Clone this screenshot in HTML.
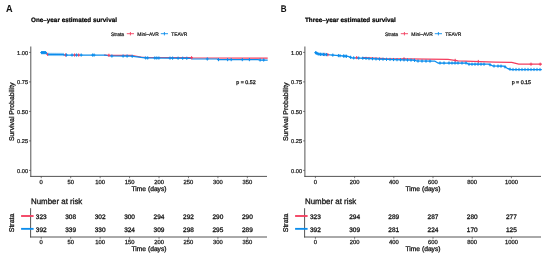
<!DOCTYPE html>
<html><head><meta charset="utf-8"><style>
html,body{margin:0;padding:0;background:#fff;width:550px;height:256px;overflow:hidden}
#w{width:550px;height:256px;will-change:transform}
svg text{font-family:"Liberation Sans", sans-serif;text-rendering:geometricPrecision;stroke:#111;stroke-width:0.3px;paint-order:stroke}
</style></head><body><div id="w">
<svg width="550" height="256" viewBox="0 0 550 256" style="display:block">
<rect width="550" height="256" fill="#ffffff"/>
<text x="0" y="0" font-size="9.4" font-weight="bold" fill="#111" style="stroke-width:0.05px" transform="translate(6.00,11.6) scale(0.97,1.09)">A</text>
<text x="31.00" y="22.15" font-size="6.3" text-anchor="start" font-weight="bold" fill="#000" style="stroke-width:0.22px;stroke:#000;letter-spacing:0.02px">One–year estimated survival</text>
<text x="110.90" y="35.50" font-size="4.95" text-anchor="start" font-weight="normal" fill="#1a1a1a" style="stroke-width:0.2px">Strata</text>
<line x1="126.80" y1="33.70" x2="134.00" y2="33.70" stroke="#F43E5F" stroke-width="0.9" />
<line x1="130.40" y1="32.00" x2="130.40" y2="35.40" stroke="#F43E5F" stroke-width="0.9" />
<line x1="160.80" y1="33.70" x2="168.00" y2="33.70" stroke="#0C8DEC" stroke-width="0.9" />
<line x1="164.40" y1="32.00" x2="164.40" y2="35.40" stroke="#0C8DEC" stroke-width="0.9" />
<text x="137.30" y="35.50" font-size="4.95" text-anchor="start" font-weight="normal" fill="#1a1a1a" style="stroke-width:0.2px">Mini–AVR</text>
<text x="171.30" y="35.50" font-size="4.95" text-anchor="start" font-weight="normal" fill="#1a1a1a" style="stroke-width:0.2px">TEAVR</text>
<path d="M104.00,55.10 L105.00,55.10 L108.90,55.30 L131.00,55.40 L141.00,57.00 L145.00,57.40 L191.00,57.60 L192.00,57.80 L267.70,58.20" fill="none" stroke="#F43E5F" stroke-width="1.25" stroke-linejoin="round"/>
<path d="M41.24,52.60 L46.00,52.60 L47.50,54.40 L63.00,54.50 L64.00,55.00 L105.00,55.10 L110.40,56.00 L131.00,56.10 L141.00,57.40 L145.00,57.90 L191.00,58.30 L192.00,58.90 L217.00,59.00 L218.00,59.60 L258.00,59.60 L260.00,60.00 L267.70,60.00" fill="none" stroke="#0C8DEC" stroke-width="1.25" stroke-linejoin="round"/>
<path d="M47.70,52.80v3.20M46.30,54.40h2.8 M65.50,53.40v3.20M64.10,55.00h2.8 M74.60,53.43v3.20M73.20,55.03h2.8 M78.70,53.44v3.20M77.30,55.04h2.8 M108.90,53.70v3.20M107.50,55.30h2.8 M191.60,56.12v3.20M190.20,57.72h2.8" fill="none" stroke="#F43E5F" stroke-width="1.0"/>
<path d="M41.60,51.00v3.20M40.20,52.60h2.8 M42.60,51.00v3.20M41.20,52.60h2.8 M43.60,51.00v3.20M42.20,52.60h2.8 M44.60,51.00v3.20M43.20,52.60h2.8 M45.60,51.00v3.20M44.20,52.60h2.8 M49.00,52.81v3.20M47.60,54.41h2.8 M51.00,52.82v3.20M49.60,54.42h2.8 M53.00,52.84v3.20M51.60,54.44h2.8 M55.00,52.85v3.20M53.60,54.45h2.8 M57.00,52.86v3.20M55.60,54.46h2.8 M59.00,52.87v3.20M57.60,54.47h2.8 M61.00,52.89v3.20M59.60,54.49h2.8 M63.00,52.90v3.20M61.60,54.50h2.8 M66.50,53.41v3.20M65.10,55.01h2.8 M72.00,53.42v3.20M70.60,55.02h2.8 M76.60,53.43v3.20M75.20,55.03h2.8 M81.20,53.44v3.20M79.80,55.04h2.8 M92.60,53.47v3.20M91.20,55.07h2.8 M94.10,53.47v3.20M92.70,55.07h2.8 M111.90,54.41v3.20M110.50,56.01h2.8 M123.10,54.46v3.20M121.70,56.06h2.8 M127.10,54.48v3.20M125.70,56.08h2.8 M132.20,54.66v3.20M130.80,56.26h2.8 M145.70,56.31v3.20M144.30,57.91h2.8 M147.70,56.32v3.20M146.30,57.92h2.8 M154.80,56.39v3.20M153.40,57.99h2.8 M156.80,56.40v3.20M155.40,58.00h2.8 M158.90,56.42v3.20M157.50,58.02h2.8 M170.00,56.52v3.20M168.60,58.12h2.8 M172.60,56.54v3.20M171.20,58.14h2.8 M178.10,56.59v3.20M176.70,58.19h2.8 M182.70,56.63v3.20M181.30,58.23h2.8 M186.80,56.66v3.20M185.40,58.26h2.8 M207.30,57.36v3.20M205.90,58.96h2.8 M218.50,58.00v3.20M217.10,59.60h2.8 M227.60,58.00v3.20M226.20,59.60h2.8 M231.20,58.00v3.20M229.80,59.60h2.8 M242.30,58.00v3.20M240.90,59.60h2.8 M249.40,58.00v3.20M248.00,59.60h2.8 M260.10,58.40v3.20M258.70,60.00h2.8 M263.70,58.40v3.20M262.30,60.00h2.8" fill="none" stroke="#0C8DEC" stroke-width="1.0"/>
<line x1="30.80" y1="46.50" x2="30.80" y2="176.85" stroke="#424242" stroke-width="0.9" />
<line x1="30.35" y1="176.40" x2="267.00" y2="176.40" stroke="#424242" stroke-width="0.9" />
<line x1="29.00" y1="52.40" x2="30.80" y2="52.40" stroke="#424242" stroke-width="0.7" />
<text x="28.20" y="54.70" font-size="5.7" text-anchor="end" font-weight="normal" fill="#1a1a1a" style="stroke-width:0.22px">1.00</text>
<line x1="29.00" y1="81.90" x2="30.80" y2="81.90" stroke="#424242" stroke-width="0.7" />
<text x="28.20" y="84.20" font-size="5.7" text-anchor="end" font-weight="normal" fill="#1a1a1a" style="stroke-width:0.22px">0.75</text>
<line x1="29.00" y1="111.40" x2="30.80" y2="111.40" stroke="#424242" stroke-width="0.7" />
<text x="28.20" y="113.70" font-size="5.7" text-anchor="end" font-weight="normal" fill="#1a1a1a" style="stroke-width:0.22px">0.50</text>
<line x1="29.00" y1="140.90" x2="30.80" y2="140.90" stroke="#424242" stroke-width="0.7" />
<text x="28.20" y="143.20" font-size="5.7" text-anchor="end" font-weight="normal" fill="#1a1a1a" style="stroke-width:0.22px">0.25</text>
<line x1="29.00" y1="170.40" x2="30.80" y2="170.40" stroke="#424242" stroke-width="0.7" />
<text x="28.20" y="172.70" font-size="5.7" text-anchor="end" font-weight="normal" fill="#1a1a1a" style="stroke-width:0.22px">0.00</text>
<text x="0" y="0" font-size="6.9" text-anchor="middle" fill="#1a1a1a" transform="translate(14.20,111.8) rotate(-90)">Survival Probability</text>
<line x1="41.24" y1="176.40" x2="41.24" y2="178.20" stroke="#424242" stroke-width="0.7" />
<text x="41.24" y="183.70" font-size="5.85" text-anchor="middle" font-weight="normal" fill="#1a1a1a" style="stroke-width:0.25px">0</text>
<line x1="70.69" y1="176.40" x2="70.69" y2="178.20" stroke="#424242" stroke-width="0.7" />
<text x="70.69" y="183.70" font-size="5.85" text-anchor="middle" font-weight="normal" fill="#1a1a1a" style="stroke-width:0.25px">50</text>
<line x1="100.13" y1="176.40" x2="100.13" y2="178.20" stroke="#424242" stroke-width="0.7" />
<text x="100.13" y="183.70" font-size="5.85" text-anchor="middle" font-weight="normal" fill="#1a1a1a" style="stroke-width:0.25px">100</text>
<line x1="129.57" y1="176.40" x2="129.57" y2="178.20" stroke="#424242" stroke-width="0.7" />
<text x="129.57" y="183.70" font-size="5.85" text-anchor="middle" font-weight="normal" fill="#1a1a1a" style="stroke-width:0.25px">150</text>
<line x1="159.02" y1="176.40" x2="159.02" y2="178.20" stroke="#424242" stroke-width="0.7" />
<text x="159.02" y="183.70" font-size="5.85" text-anchor="middle" font-weight="normal" fill="#1a1a1a" style="stroke-width:0.25px">200</text>
<line x1="188.47" y1="176.40" x2="188.47" y2="178.20" stroke="#424242" stroke-width="0.7" />
<text x="188.47" y="183.70" font-size="5.85" text-anchor="middle" font-weight="normal" fill="#1a1a1a" style="stroke-width:0.25px">250</text>
<line x1="217.91" y1="176.40" x2="217.91" y2="178.20" stroke="#424242" stroke-width="0.7" />
<text x="217.91" y="183.70" font-size="5.85" text-anchor="middle" font-weight="normal" fill="#1a1a1a" style="stroke-width:0.25px">300</text>
<line x1="247.35" y1="176.40" x2="247.35" y2="178.20" stroke="#424242" stroke-width="0.7" />
<text x="247.35" y="183.70" font-size="5.85" text-anchor="middle" font-weight="normal" fill="#1a1a1a" style="stroke-width:0.25px">350</text>
<text x="149.00" y="191.00" font-size="6.7" text-anchor="middle" font-weight="normal" fill="#1a1a1a" >Time (days)</text>
<text x="236.30" y="84.30" font-size="5.3" text-anchor="start" font-weight="normal" fill="#222" >p = 0.52</text>
<text x="31.00" y="203.90" font-size="7.9" text-anchor="start" font-weight="normal" fill="#1a1a1a" >Number at risk</text>
<line x1="30.60" y1="208.20" x2="30.60" y2="237.45" stroke="#424242" stroke-width="0.9" />
<line x1="30.15" y1="237.00" x2="267.00" y2="237.00" stroke="#424242" stroke-width="0.9" />
<line x1="21.10" y1="216.00" x2="33.60" y2="216.00" stroke="#F43E5F" stroke-width="1.85" />
<line x1="21.10" y1="228.85" x2="33.60" y2="228.85" stroke="#0C8DEC" stroke-width="1.85" />
<text x="0" y="0" font-size="7.0" text-anchor="middle" fill="#1a1a1a" transform="translate(14.00,222.9) rotate(-90)">Strata</text>
<text x="41.24" y="218.60" font-size="6.5" text-anchor="middle" font-weight="normal" fill="#1a1a1a" >323</text>
<text x="41.24" y="231.60" font-size="6.5" text-anchor="middle" font-weight="normal" fill="#1a1a1a" >392</text>
<line x1="41.24" y1="237.00" x2="41.24" y2="238.80" stroke="#424242" stroke-width="0.7" />
<text x="41.24" y="243.90" font-size="5.85" text-anchor="middle" font-weight="normal" fill="#1a1a1a" style="stroke-width:0.25px">0</text>
<text x="70.69" y="218.60" font-size="6.5" text-anchor="middle" font-weight="normal" fill="#1a1a1a" >308</text>
<text x="70.69" y="231.60" font-size="6.5" text-anchor="middle" font-weight="normal" fill="#1a1a1a" >339</text>
<line x1="70.69" y1="237.00" x2="70.69" y2="238.80" stroke="#424242" stroke-width="0.7" />
<text x="70.69" y="243.90" font-size="5.85" text-anchor="middle" font-weight="normal" fill="#1a1a1a" style="stroke-width:0.25px">50</text>
<text x="100.13" y="218.60" font-size="6.5" text-anchor="middle" font-weight="normal" fill="#1a1a1a" >302</text>
<text x="100.13" y="231.60" font-size="6.5" text-anchor="middle" font-weight="normal" fill="#1a1a1a" >330</text>
<line x1="100.13" y1="237.00" x2="100.13" y2="238.80" stroke="#424242" stroke-width="0.7" />
<text x="100.13" y="243.90" font-size="5.85" text-anchor="middle" font-weight="normal" fill="#1a1a1a" style="stroke-width:0.25px">100</text>
<text x="129.57" y="218.60" font-size="6.5" text-anchor="middle" font-weight="normal" fill="#1a1a1a" >300</text>
<text x="129.57" y="231.60" font-size="6.5" text-anchor="middle" font-weight="normal" fill="#1a1a1a" >324</text>
<line x1="129.57" y1="237.00" x2="129.57" y2="238.80" stroke="#424242" stroke-width="0.7" />
<text x="129.57" y="243.90" font-size="5.85" text-anchor="middle" font-weight="normal" fill="#1a1a1a" style="stroke-width:0.25px">150</text>
<text x="159.02" y="218.60" font-size="6.5" text-anchor="middle" font-weight="normal" fill="#1a1a1a" >294</text>
<text x="159.02" y="231.60" font-size="6.5" text-anchor="middle" font-weight="normal" fill="#1a1a1a" >309</text>
<line x1="159.02" y1="237.00" x2="159.02" y2="238.80" stroke="#424242" stroke-width="0.7" />
<text x="159.02" y="243.90" font-size="5.85" text-anchor="middle" font-weight="normal" fill="#1a1a1a" style="stroke-width:0.25px">200</text>
<text x="188.47" y="218.60" font-size="6.5" text-anchor="middle" font-weight="normal" fill="#1a1a1a" >292</text>
<text x="188.47" y="231.60" font-size="6.5" text-anchor="middle" font-weight="normal" fill="#1a1a1a" >298</text>
<line x1="188.47" y1="237.00" x2="188.47" y2="238.80" stroke="#424242" stroke-width="0.7" />
<text x="188.47" y="243.90" font-size="5.85" text-anchor="middle" font-weight="normal" fill="#1a1a1a" style="stroke-width:0.25px">250</text>
<text x="217.91" y="218.60" font-size="6.5" text-anchor="middle" font-weight="normal" fill="#1a1a1a" >290</text>
<text x="217.91" y="231.60" font-size="6.5" text-anchor="middle" font-weight="normal" fill="#1a1a1a" >295</text>
<line x1="217.91" y1="237.00" x2="217.91" y2="238.80" stroke="#424242" stroke-width="0.7" />
<text x="217.91" y="243.90" font-size="5.85" text-anchor="middle" font-weight="normal" fill="#1a1a1a" style="stroke-width:0.25px">300</text>
<text x="247.35" y="218.60" font-size="6.5" text-anchor="middle" font-weight="normal" fill="#1a1a1a" >290</text>
<text x="247.35" y="231.60" font-size="6.5" text-anchor="middle" font-weight="normal" fill="#1a1a1a" >289</text>
<line x1="247.35" y1="237.00" x2="247.35" y2="238.80" stroke="#424242" stroke-width="0.7" />
<text x="247.35" y="243.90" font-size="5.85" text-anchor="middle" font-weight="normal" fill="#1a1a1a" style="stroke-width:0.25px">350</text>
<text x="149.00" y="251.20" font-size="6.7" text-anchor="middle" font-weight="normal" fill="#1a1a1a" >Time (days)</text>
<text x="0" y="0" font-size="9.4" font-weight="bold" fill="#111" style="stroke-width:0.05px" transform="translate(280.80,11.6) scale(0.86,1.03)">B</text>
<text x="305.00" y="22.15" font-size="6.3" text-anchor="start" font-weight="bold" fill="#000" style="stroke-width:0.22px;stroke:#000;letter-spacing:0.02px">Three–year estimated survival</text>
<text x="384.90" y="35.50" font-size="4.95" text-anchor="start" font-weight="normal" fill="#1a1a1a" style="stroke-width:0.2px">Strata</text>
<line x1="400.80" y1="33.70" x2="408.00" y2="33.70" stroke="#F43E5F" stroke-width="0.9" />
<line x1="404.40" y1="32.00" x2="404.40" y2="35.40" stroke="#F43E5F" stroke-width="0.9" />
<line x1="434.80" y1="33.70" x2="442.00" y2="33.70" stroke="#0C8DEC" stroke-width="0.9" />
<line x1="438.40" y1="32.00" x2="438.40" y2="35.40" stroke="#0C8DEC" stroke-width="0.9" />
<text x="411.30" y="35.50" font-size="4.95" text-anchor="start" font-weight="normal" fill="#1a1a1a" style="stroke-width:0.2px">Mini–AVR</text>
<text x="445.30" y="35.50" font-size="4.95" text-anchor="start" font-weight="normal" fill="#1a1a1a" style="stroke-width:0.2px">TEAVR</text>
<path d="M362.00,57.60 L365.00,57.60 L385.00,58.60 L448.00,59.40 L458.00,60.80 L495.00,62.10 L511.70,62.40 L518.75,64.20 L541.70,64.20" fill="none" stroke="#F43E5F" stroke-width="1.25" stroke-linejoin="round"/>
<path d="M315.40,52.60 L319.00,54.20 L327.00,54.60 L348.00,56.40 L352.00,57.80 L360.00,58.10 L380.00,59.10 L395.00,59.60 L414.00,60.20 L417.00,61.00 L435.00,61.20 L438.00,63.00 L466.50,63.00 L469.00,64.20 L488.70,64.20 L493.00,66.00 L504.00,66.20 L508.00,68.70 L511.00,69.50 L541.70,69.50" fill="none" stroke="#0C8DEC" stroke-width="1.25" stroke-linejoin="round"/>
<path d="M324.20,52.86v3.20M322.80,54.46h2.8 M327.80,53.07v3.20M326.40,54.67h2.8 M356.70,56.00v3.20M355.30,57.60h2.8 M404.00,57.24v3.20M402.60,58.84h2.8 M455.20,58.81v3.20M453.80,60.41h2.8 M478.30,59.91v3.20M476.90,61.51h2.8 M531.00,62.60v3.20M529.60,64.20h2.8 M540.20,62.60v3.20M538.80,64.20h2.8" fill="none" stroke="#F43E5F" stroke-width="1.0"/>
<path d="M315.60,51.09v3.20M314.20,52.69h2.8 M316.60,51.53v3.20M315.20,53.13h2.8 M317.80,52.07v3.20M316.40,53.67h2.8 M319.00,52.60v3.20M317.60,54.20h2.8 M320.50,52.68v3.20M319.10,54.28h2.8 M322.00,52.75v3.20M320.60,54.35h2.8 M323.50,52.83v3.20M322.10,54.43h2.8 M325.00,52.90v3.20M323.60,54.50h2.8 M326.50,52.98v3.20M325.10,54.58h2.8 M332.80,53.50v3.20M331.40,55.10h2.8 M338.40,53.98v3.20M337.00,55.58h2.8 M340.00,54.11v3.20M338.60,55.71h2.8 M343.50,54.41v3.20M342.10,56.01h2.8 M345.00,54.54v3.20M343.60,56.14h2.8 M346.50,54.67v3.20M345.10,56.27h2.8 M350.60,55.71v3.20M349.20,57.31h2.8 M353.70,56.26v3.20M352.30,57.86h2.8 M358.70,56.45v3.20M357.30,58.05h2.8 M362.80,56.64v3.20M361.40,58.24h2.8 M366.00,56.80v3.20M364.60,58.40h2.8 M369.00,56.95v3.20M367.60,58.55h2.8 M372.50,57.12v3.20M371.10,58.73h2.8 M376.00,57.30v3.20M374.60,58.90h2.8 M379.50,57.48v3.20M378.10,59.08h2.8 M383.00,57.60v3.20M381.60,59.20h2.8 M386.50,57.72v3.20M385.10,59.32h2.8 M390.00,57.83v3.20M388.60,59.43h2.8 M393.50,57.95v3.20M392.10,59.55h2.8 M397.00,58.06v3.20M395.60,59.66h2.8 M400.50,58.17v3.20M399.10,59.77h2.8 M404.00,58.28v3.20M402.60,59.88h2.8 M407.50,58.39v3.20M406.10,59.99h2.8 M411.00,58.51v3.20M409.60,60.11h2.8 M414.50,58.73v3.20M413.10,60.33h2.8 M418.00,59.41v3.20M416.60,61.01h2.8 M422.00,59.46v3.20M420.60,61.06h2.8 M426.00,59.50v3.20M424.60,61.10h2.8 M430.00,59.54v3.20M428.60,61.14h2.8 M440.00,61.40v3.20M438.60,63.00h2.8 M444.00,61.40v3.20M442.60,63.00h2.8 M449.00,61.40v3.20M447.60,63.00h2.8 M452.00,61.40v3.20M450.60,63.00h2.8 M455.00,61.40v3.20M453.60,63.00h2.8 M458.00,61.40v3.20M456.60,63.00h2.8 M462.00,61.40v3.20M460.60,63.00h2.8 M466.00,61.40v3.20M464.60,63.00h2.8 M469.00,62.60v3.20M467.60,64.20h2.8 M472.00,62.60v3.20M470.60,64.20h2.8 M475.00,62.60v3.20M473.60,64.20h2.8 M478.00,62.60v3.20M476.60,64.20h2.8 M481.00,62.60v3.20M479.60,64.20h2.8 M484.00,62.60v3.20M482.60,64.20h2.8 M490.00,63.14v3.20M488.60,64.74h2.8 M494.00,64.42v3.20M492.60,66.02h2.8 M498.00,64.49v3.20M496.60,66.09h2.8 M501.00,64.55v3.20M499.60,66.15h2.8 M505.00,65.23v3.20M503.60,66.83h2.8 M510.00,67.63v3.20M508.60,69.23h2.8 M513.00,67.90v3.20M511.60,69.50h2.8 M516.00,67.90v3.20M514.60,69.50h2.8 M519.00,67.90v3.20M517.60,69.50h2.8 M522.00,67.90v3.20M520.60,69.50h2.8 M525.00,67.90v3.20M523.60,69.50h2.8 M528.00,67.90v3.20M526.60,69.50h2.8 M531.00,67.90v3.20M529.60,69.50h2.8 M534.00,67.90v3.20M532.60,69.50h2.8 M537.00,67.90v3.20M535.60,69.50h2.8 M540.00,67.90v3.20M538.60,69.50h2.8" fill="none" stroke="#0C8DEC" stroke-width="1.0"/>
<line x1="304.90" y1="46.50" x2="304.90" y2="176.85" stroke="#424242" stroke-width="0.9" />
<line x1="304.45" y1="176.40" x2="541.00" y2="176.40" stroke="#424242" stroke-width="0.9" />
<line x1="303.10" y1="52.40" x2="304.90" y2="52.40" stroke="#424242" stroke-width="0.7" />
<text x="302.20" y="54.70" font-size="5.7" text-anchor="end" font-weight="normal" fill="#1a1a1a" style="stroke-width:0.22px">1.00</text>
<line x1="303.10" y1="81.90" x2="304.90" y2="81.90" stroke="#424242" stroke-width="0.7" />
<text x="302.20" y="84.20" font-size="5.7" text-anchor="end" font-weight="normal" fill="#1a1a1a" style="stroke-width:0.22px">0.75</text>
<line x1="303.10" y1="111.40" x2="304.90" y2="111.40" stroke="#424242" stroke-width="0.7" />
<text x="302.20" y="113.70" font-size="5.7" text-anchor="end" font-weight="normal" fill="#1a1a1a" style="stroke-width:0.22px">0.50</text>
<line x1="303.10" y1="140.90" x2="304.90" y2="140.90" stroke="#424242" stroke-width="0.7" />
<text x="302.20" y="143.20" font-size="5.7" text-anchor="end" font-weight="normal" fill="#1a1a1a" style="stroke-width:0.22px">0.25</text>
<line x1="303.10" y1="170.40" x2="304.90" y2="170.40" stroke="#424242" stroke-width="0.7" />
<text x="302.20" y="172.70" font-size="5.7" text-anchor="end" font-weight="normal" fill="#1a1a1a" style="stroke-width:0.22px">0.00</text>
<text x="0" y="0" font-size="6.9" text-anchor="middle" fill="#1a1a1a" transform="translate(288.20,111.8) rotate(-90)">Survival Probability</text>
<line x1="315.40" y1="176.40" x2="315.40" y2="178.20" stroke="#424242" stroke-width="0.7" />
<text x="315.40" y="183.70" font-size="5.85" text-anchor="middle" font-weight="normal" fill="#1a1a1a" style="stroke-width:0.25px">0</text>
<line x1="354.60" y1="176.40" x2="354.60" y2="178.20" stroke="#424242" stroke-width="0.7" />
<text x="354.60" y="183.70" font-size="5.85" text-anchor="middle" font-weight="normal" fill="#1a1a1a" style="stroke-width:0.25px">200</text>
<line x1="393.80" y1="176.40" x2="393.80" y2="178.20" stroke="#424242" stroke-width="0.7" />
<text x="393.80" y="183.70" font-size="5.85" text-anchor="middle" font-weight="normal" fill="#1a1a1a" style="stroke-width:0.25px">400</text>
<line x1="433.00" y1="176.40" x2="433.00" y2="178.20" stroke="#424242" stroke-width="0.7" />
<text x="433.00" y="183.70" font-size="5.85" text-anchor="middle" font-weight="normal" fill="#1a1a1a" style="stroke-width:0.25px">600</text>
<line x1="472.20" y1="176.40" x2="472.20" y2="178.20" stroke="#424242" stroke-width="0.7" />
<text x="472.20" y="183.70" font-size="5.85" text-anchor="middle" font-weight="normal" fill="#1a1a1a" style="stroke-width:0.25px">800</text>
<line x1="511.40" y1="176.40" x2="511.40" y2="178.20" stroke="#424242" stroke-width="0.7" />
<text x="511.40" y="183.70" font-size="5.85" text-anchor="middle" font-weight="normal" fill="#1a1a1a" style="stroke-width:0.25px">1000</text>
<text x="423.00" y="191.00" font-size="6.7" text-anchor="middle" font-weight="normal" fill="#1a1a1a" >Time (days)</text>
<text x="511.70" y="84.30" font-size="5.3" text-anchor="start" font-weight="normal" fill="#222" >p = 0.15</text>
<text x="305.00" y="203.90" font-size="7.9" text-anchor="start" font-weight="normal" fill="#1a1a1a" >Number at risk</text>
<line x1="304.60" y1="208.20" x2="304.60" y2="237.45" stroke="#424242" stroke-width="0.9" />
<line x1="304.15" y1="237.00" x2="541.00" y2="237.00" stroke="#424242" stroke-width="0.9" />
<line x1="295.10" y1="216.00" x2="307.60" y2="216.00" stroke="#F43E5F" stroke-width="1.85" />
<line x1="295.10" y1="228.85" x2="307.60" y2="228.85" stroke="#0C8DEC" stroke-width="1.85" />
<text x="0" y="0" font-size="7.0" text-anchor="middle" fill="#1a1a1a" transform="translate(288.00,222.9) rotate(-90)">Strata</text>
<text x="315.40" y="218.60" font-size="6.5" text-anchor="middle" font-weight="normal" fill="#1a1a1a" >323</text>
<text x="315.40" y="231.60" font-size="6.5" text-anchor="middle" font-weight="normal" fill="#1a1a1a" >392</text>
<line x1="315.40" y1="237.00" x2="315.40" y2="238.80" stroke="#424242" stroke-width="0.7" />
<text x="315.40" y="243.90" font-size="5.85" text-anchor="middle" font-weight="normal" fill="#1a1a1a" style="stroke-width:0.25px">0</text>
<text x="354.60" y="218.60" font-size="6.5" text-anchor="middle" font-weight="normal" fill="#1a1a1a" >294</text>
<text x="354.60" y="231.60" font-size="6.5" text-anchor="middle" font-weight="normal" fill="#1a1a1a" >309</text>
<line x1="354.60" y1="237.00" x2="354.60" y2="238.80" stroke="#424242" stroke-width="0.7" />
<text x="354.60" y="243.90" font-size="5.85" text-anchor="middle" font-weight="normal" fill="#1a1a1a" style="stroke-width:0.25px">200</text>
<text x="393.80" y="218.60" font-size="6.5" text-anchor="middle" font-weight="normal" fill="#1a1a1a" >289</text>
<text x="393.80" y="231.60" font-size="6.5" text-anchor="middle" font-weight="normal" fill="#1a1a1a" >281</text>
<line x1="393.80" y1="237.00" x2="393.80" y2="238.80" stroke="#424242" stroke-width="0.7" />
<text x="393.80" y="243.90" font-size="5.85" text-anchor="middle" font-weight="normal" fill="#1a1a1a" style="stroke-width:0.25px">400</text>
<text x="433.00" y="218.60" font-size="6.5" text-anchor="middle" font-weight="normal" fill="#1a1a1a" >287</text>
<text x="433.00" y="231.60" font-size="6.5" text-anchor="middle" font-weight="normal" fill="#1a1a1a" >224</text>
<line x1="433.00" y1="237.00" x2="433.00" y2="238.80" stroke="#424242" stroke-width="0.7" />
<text x="433.00" y="243.90" font-size="5.85" text-anchor="middle" font-weight="normal" fill="#1a1a1a" style="stroke-width:0.25px">600</text>
<text x="472.20" y="218.60" font-size="6.5" text-anchor="middle" font-weight="normal" fill="#1a1a1a" >280</text>
<text x="472.20" y="231.60" font-size="6.5" text-anchor="middle" font-weight="normal" fill="#1a1a1a" >170</text>
<line x1="472.20" y1="237.00" x2="472.20" y2="238.80" stroke="#424242" stroke-width="0.7" />
<text x="472.20" y="243.90" font-size="5.85" text-anchor="middle" font-weight="normal" fill="#1a1a1a" style="stroke-width:0.25px">800</text>
<text x="511.40" y="218.60" font-size="6.5" text-anchor="middle" font-weight="normal" fill="#1a1a1a" >277</text>
<text x="511.40" y="231.60" font-size="6.5" text-anchor="middle" font-weight="normal" fill="#1a1a1a" >125</text>
<line x1="511.40" y1="237.00" x2="511.40" y2="238.80" stroke="#424242" stroke-width="0.7" />
<text x="511.40" y="243.90" font-size="5.85" text-anchor="middle" font-weight="normal" fill="#1a1a1a" style="stroke-width:0.25px">1000</text>
<text x="423.00" y="251.20" font-size="6.7" text-anchor="middle" font-weight="normal" fill="#1a1a1a" >Time (days)</text>
</svg>
</div></body></html>
